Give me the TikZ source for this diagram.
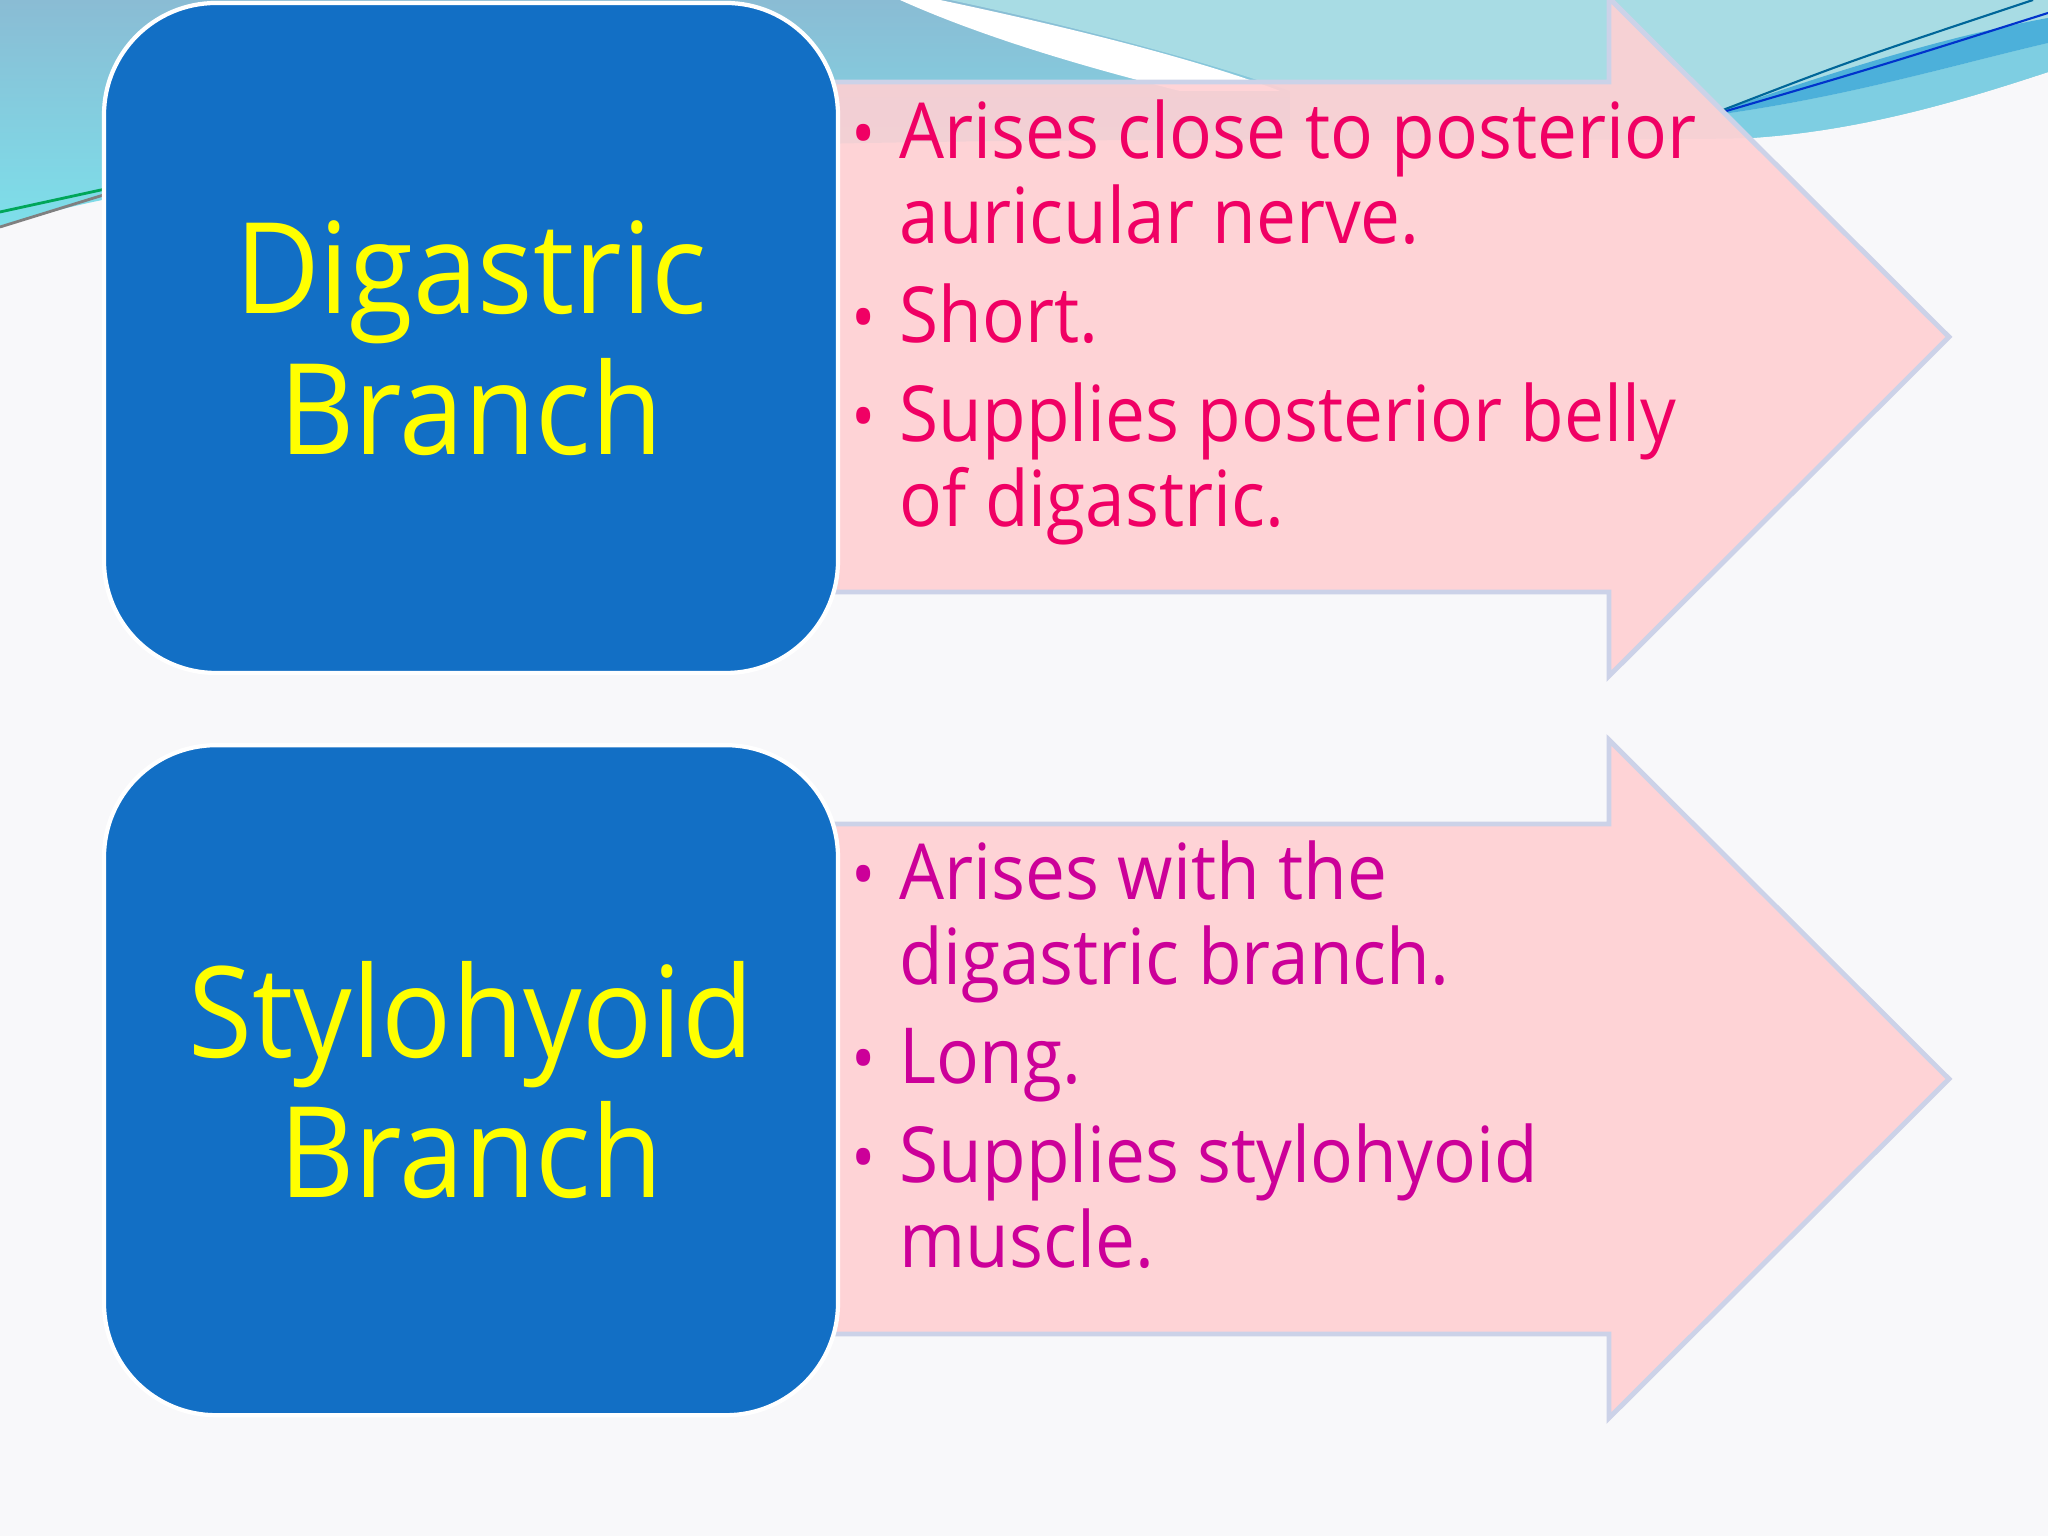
\documentclass[tikz,border=0pt]{standalone}
\usepackage{fontspec}
\setmainfont{Open Sans}[FakeStretch=0.92]
\usetikzlibrary{positioning}

\definecolor{paper}{RGB}{248,248,250}
\definecolor{skytop}{RGB}{138,188,212}
\definecolor{skycyan}{RGB}{124,226,236}
\definecolor{skylight}{RGB}{168,220,228}
\definecolor{waveblue}{RGB}{76,176,218}
\definecolor{wavecyan}{RGB}{126,206,226}
\definecolor{boxblue}{RGB}{18,111,197}
\definecolor{titleyellow}{RGB}{255,255,0}
\definecolor{arrowpink}{RGB}{255,208,211}
\definecolor{arrowrim}{RGB}{204,210,232}
\definecolor{pinkred}{RGB}{240,0,100}
\definecolor{plum}{RGB}{204,0,153}

\newcommand{\bul}{\makebox[0.44cm][l]{\hspace*{-0.04cm}{\fontsize{20}{20}\selectfont\textbullet}}}
\newcommand{\ind}{\hspace*{0.44cm}}

\begin{document}
\begin{tikzpicture}[
    branch/.style={rectangle, draw=white, line width=1.2pt, rounded corners=1.12cm, fill=boxblue, minimum width=7.34cm, minimum height=6.70cm},
    title/.style={align=center, text=titleyellow, inner sep=0pt, font=\fontsize{36}{40}\selectfont},
    facts/.style={align=left, anchor=north west, inner sep=0pt, font=\fontsize{22}{24.2}\selectfont},
    chevron/.style={fill=arrowpink, fill opacity=0.9, draw=arrowrim, line width=1.4pt, line join=miter}]
    % background
    \fill[paper] (0,0) rectangle (20.48,15.36);
    \useasboundingbox (0,0) rectangle (20.48,15.36);
    \begin{scope}
        \clip (0,15.36) -- (0,13.08) .. controls (3,14.2) and (13,13.9) .. (17.5,13.98) .. controls (18.6,14.05) and (19.6,14.35) .. (20.48,14.64) -- (20.48,15.36) -- cycle;
        \shade[top color=skytop, bottom color=skycyan] (0,12.9) rectangle (20.48,15.36);
        \fill[skylight] (9.5,15.36) .. controls (10.5,15.15) and (11.9,14.8) .. (12.9,14.45) -- (12.9,12.8) -- (20.48,12.8) -- (20.48,15.36) -- cycle;
        \fill[white] (9.4,15.36) .. controls (10.4,15.15) and (11.9,14.8) .. (12.8,14.45) -- (11.8,14.45) .. controls (10.8,14.7) and (9.8,15.0) .. (9.0,15.36) -- cycle;
    \end{scope}
    \fill[wavecyan] (17.23,14.22) .. controls (18.5,14.4) and (19.5,14.7) .. (20.48,14.93) -- (20.48,14.64) .. controls (19.6,14.35) and (18.6,14.05) .. (17.5,13.98) -- cycle;
    \fill[waveblue] (17.23,14.26) .. controls (18.5,14.7) and (19.5,15.0) .. (20.48,15.18) -- (20.48,14.93) .. controls (19.5,14.7) and (18.5,14.4) .. (17.23,14.22) -- cycle;
    \draw[teal!80!blue, line width=0.6pt] (17.23,14.26) .. controls (18.5,14.75) .. (20.33,15.36);
    \draw[blue!60!teal, line width=0.6pt] (17.23,14.24) .. controls (18.8,14.7) .. (20.48,15.23);
    \draw[teal!70!green, line width=0.8pt] (0,13.24) -- (1.1,13.48);
    \draw[gray, line width=0.8pt] (0,13.09) -- (1.1,13.43);

    % arrows
    \draw[chevron] (8.3,14.54) -- (16.09,14.54) -- (16.09,15.38) -- (19.49,11.99) -- (16.09,8.60) -- (16.09,9.44) -- (8.3,9.44) -- cycle;
    \draw[chevron] (8.3,7.12) -- (16.09,7.12) -- (16.09,7.96) -- (19.49,4.57) -- (16.09,1.18) -- (16.09,2.02) -- (8.3,2.02) -- cycle;

    % boxes
    \node[branch] (dig) at (4.71,11.98) {};
    \node[branch, below=0.68cm of dig] (sty) {};
    \node[title] (digt) at (dig.center) {Digastric\\Branch};
    \node[title] (styt) at (sty.center) {Stylohyoid\\Branch};

    % facts
    \node[facts, text=pinkred] (digf) at (8.55,14.37) {\bul Arises close to posterior\\\ind auricular nerve.\\[4pt]\bul Short.\\[4pt]\bul Supplies posterior belly\\\ind of digastric.};
    \node[facts, text=plum] (styf) at (8.55,6.96) {\bul Arises with the\\\ind digastric branch.\\[4pt]\bul Long.\\[4pt]\bul Supplies stylohyoid\\\ind muscle.};
\end{tikzpicture}
\end{document}
